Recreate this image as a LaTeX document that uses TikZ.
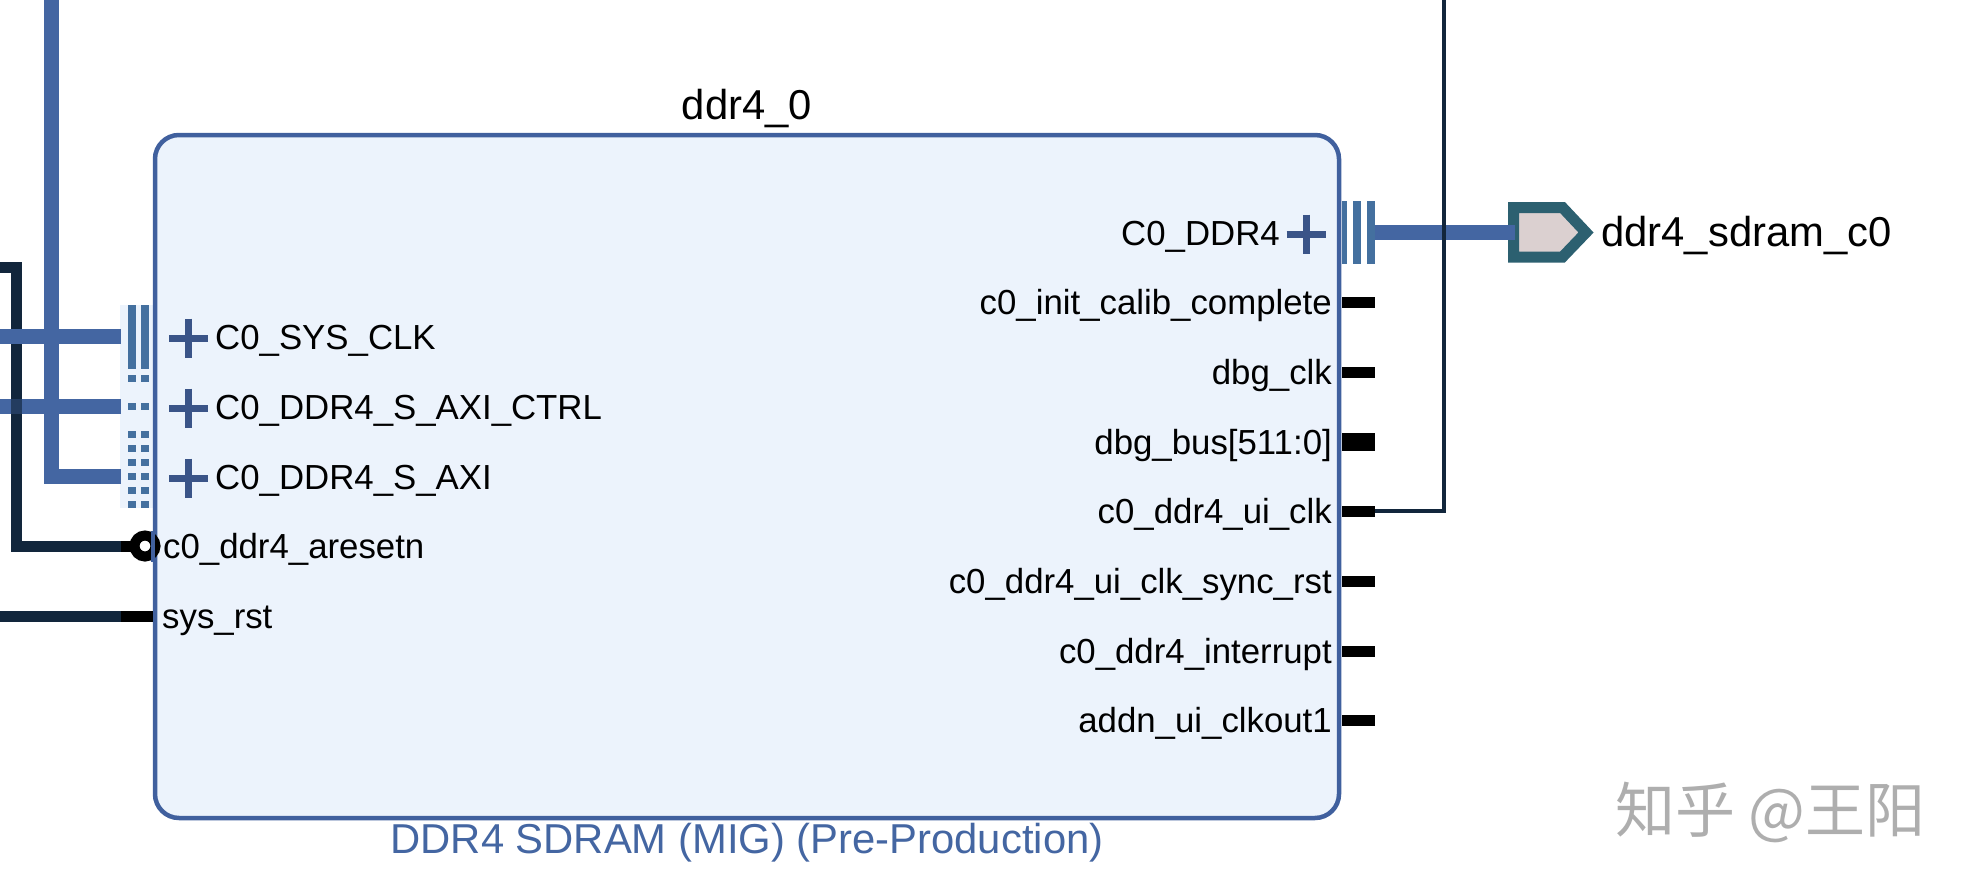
\documentclass[tikz,border=0pt]{standalone}
\usepackage{fontspec}
\setmainfont{Liberation Sans}
\newfontfamily\cjk{Noto Sans CJK SC}
\usetikzlibrary{positioning,calc}
\definecolor{blockfill}{HTML}{ECF3FC}
\definecolor{blockline}{HTML}{40609E}
\definecolor{buscol}{HTML}{4466A2}
\definecolor{barcol}{HTML}{44709F}
\definecolor{pluscol}{HTML}{3A5488}
\definecolor{netcol}{HTML}{12263C}
\definecolor{portcol}{HTML}{2C6070}
\definecolor{portfill}{HTML}{DBD0D0}
\definecolor{wmark}{HTML}{AEAEAE}
\tikzset{
    x=1pt,y=-1pt,
    block/.style ={draw=blockline, fill=blockfill, line width=4.5pt, rounded corners=24pt, minimum width=1184pt, minimum height=683pt, inner sep=0pt},
    title/.style = {font=\fontsize{41.8}{48}\selectfont, inner sep=0pt},
    pin/.style = {font=\fontsize{34.8}{40}\selectfont, inner sep=0pt},
    pinl/.style = {pin, anchor=base west},
    pinr/.style = {pin, anchor=base east},
    bus/.style = {draw=buscol, line width=15pt},
    net/.style = {draw=netcol, line width=11pt},
    thinnet/.style = {draw=netcol, line width=4pt},
    stub/.style = {draw=black, line width=11pt},
    bar/.style = {fill=barcol},
    plus/.style = {draw=pluscol, line width=7pt}
}
% one plus sign, centred on the point
\newcommand{\plussign}[2]{\draw[plus] (#1-19.5,#2) -- (#1+19.5,#2) (#1,#2-19.5) -- (#1,#2+19.5);}

\begin{document}
\begin{tikzpicture}
    \useasboundingbox (0,0) rectangle (1976,891);

    % pale strip behind the left ports
    \fill[blockfill] (120,305) rectangle (155,508);

    % left side nets
    \coordinate (rstin) at (0,267.5);
    \coordinate (rstend) at (121,546);
    \draw[net] (rstin) -| (16.5,546) -- (rstend);

    \coordinate (clkin) at (0,336.5);
    \coordinate (clkend) at (121,336.5);
    \draw[bus] (clkin) -- (clkend);

    \coordinate (ctrlin) at (0,406.5);
    \coordinate (ctrlend) at (121,406.5);
    \draw[bus] (ctrlin) -- (ctrlend);

    % the reset net shows through here
    \fill[netcol!65!buscol] (11,399) rectangle (22,414);

    \coordinate (axiin) at (51.5,0);
    \coordinate (axiend) at (121,476.5);
    \draw[bus] (axiin) |- (axiend);

    \coordinate (sysin) at (0,616);
    \coordinate (sysend) at (121,616);
    \draw[net] (sysin) -- (sysend);

    % the block
    \node[block] (ddr) at (747,476.5) {};
    \node[title] (name) at (747,109) {ddr4\_0};
    \node[title, text=buscol] (kind) at (747,842.5) {DDR4 SDRAM (MIG) (Pre-Production)};

    % left interface bars
    \foreach \x in {128,141} {
        \fill[bar] (\x,305) rectangle (\x+7.5,369);
        \foreach \y in {375,403,431,445,459,473,487,501}
            \fill[bar] (\x,\y) rectangle (\x+7.5,\y+7);
    }

    % left pins
    \draw[stub] (rstend) -- (145,546);
    \node[circle, draw=black, fill=white, line width=10pt, minimum size=21pt, inner sep=0pt] (inv) at (145,546) {};
    % block edge runs over the bubble
    \draw[blockline, line width=4.5pt] (ddr.west |- inv.north) -- (ddr.west |- inv.south);
    \draw[stub] (sysend) -- (153,616);

    \plussign{188.7}{338}
    \plussign{188.7}{408}
    \plussign{188.7}{478}

    \node[pinl] (sysclk) at (215,349) {C0\_SYS\_CLK};
    \node[pinl] (axictrl) at (215,419) {C0\_DDR4\_S\_AXI\_CTRL};
    \node[pinl] (axi) at (215,489) {C0\_DDR4\_S\_AXI};
    \node[pinl] (aresetn) at (163,558) {c0\_ddr4\_aresetn};
    \node[pinl] (sysrst) at (162,628) {sys\_rst};

    % right interface
    \foreach \x/\w in {1342/5,1353/8,1367/8}
        \fill[bar] (\x,201) rectangle (\x+\w,264);
    \plussign{1306}{234}

    \foreach \y/\w in {302/11,372/11,441.5/18,511/11,581/11,651/11,720/11}
        \draw[stub, line width=\w pt] (1342,\y) -- (1375,\y);

    \node[pinr] (ddrpin) at (1280,245) {C0\_DDR4};
    \node[pinr] (calib) at (1332,314) {c0\_init\_calib\_complete};
    \node[pinr] (dbgclk) at (1332,384) {dbg\_clk};
    \node[pinr] (dbgbus) at (1332,454) {dbg\_bus[511:0]};
    \node[pinr] (uiclk) at (1332,523) {c0\_ddr4\_ui\_clk};
    \node[pinr] (uirst) at (1332,593) {c0\_ddr4\_ui\_clk\_sync\_rst};
    \node[pinr] (intr) at (1332,663) {c0\_ddr4\_interrupt};
    \node[pinr] (clkout) at (1332,732) {addn\_ui\_clkout1};

    % external port
    \coordinate (portin) at (1515,232.5);
    \coordinate (busout) at (1375,232.5);
    \draw[portcol, fill=portfill, line width=11pt, miter limit=4] (1513.5,207.5) -- (1562.5,207.5) -- (1586,232.5) -- (1562.5,257) -- (1513.5,257) -- cycle;
    \draw[bus] (busout) -- (portin);
    \node[title, anchor=base west] (sdram) at (1601,246) {ddr4\_sdram\_c0};

    % clock net
    \coordinate (clktop) at (1444,0);
    \coordinate (clkpin) at (1375,511);
    \draw[thinnet] (clkpin) -| (clktop);

    % watermark
    \node[inner sep=0pt, text=wmark, anchor=west, font=\cjk\fontsize{60}{64}\selectfont] (wm) at (1615,812) {知乎 @王阳};
\end{tikzpicture}
\end{document}
